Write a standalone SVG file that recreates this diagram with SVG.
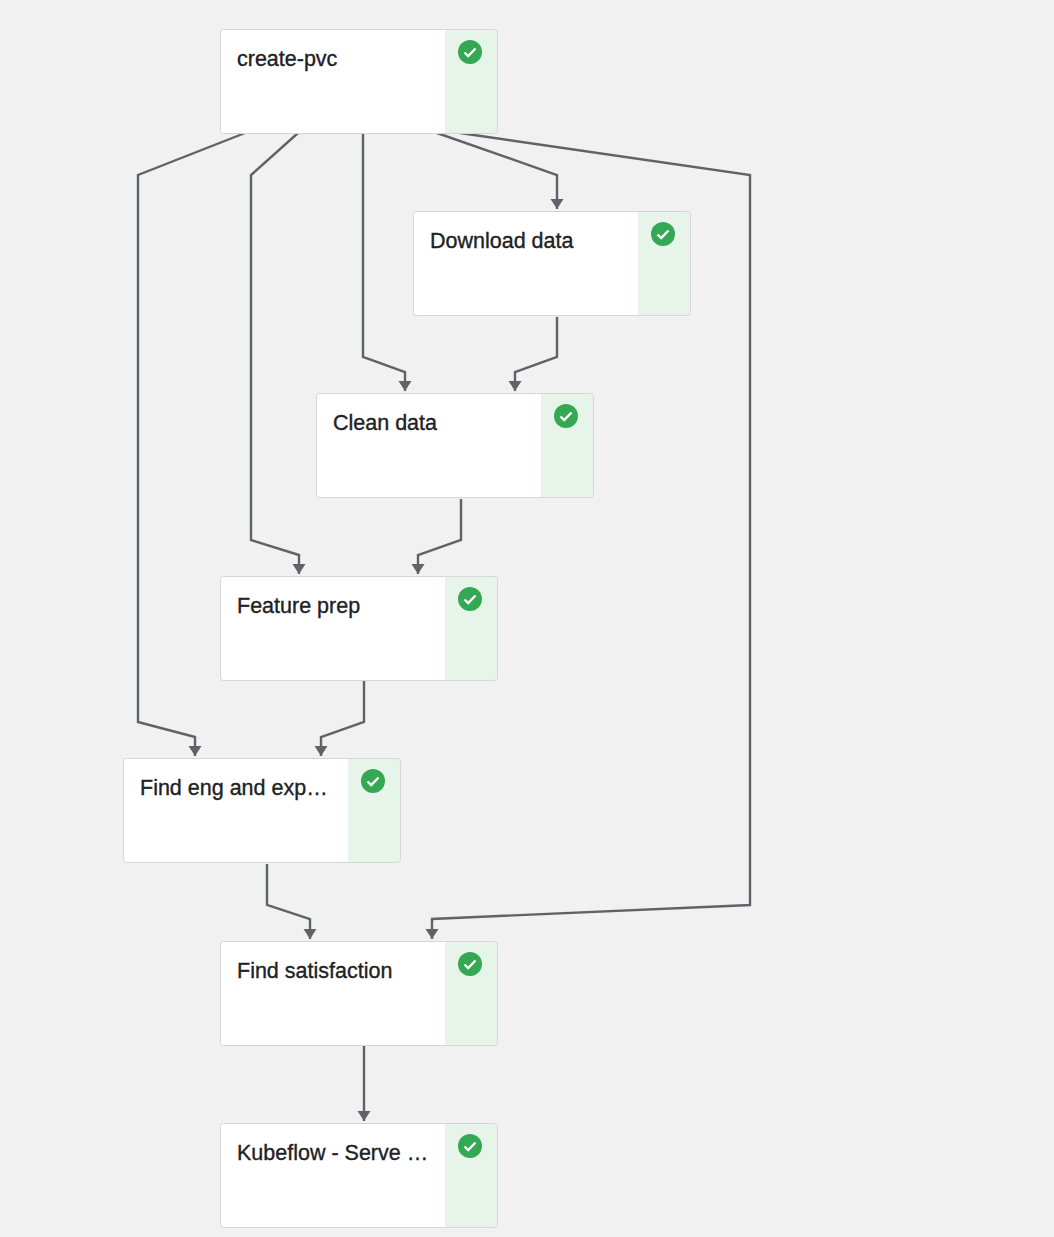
<svg xmlns="http://www.w3.org/2000/svg" width="1054" height="1237" viewBox="0 0 1054 1237">
<style>
.n text{font-family:"Liberation Sans",Arial,sans-serif;font-size:21.5px;fill:#202124;stroke:#202124;stroke-width:0.35}
.e path{fill:none;stroke:#5f6368;stroke-width:2.4;marker-end:url(#a)}
</style>
<defs>
<marker id="a" markerUnits="userSpaceOnUse" markerWidth="12" markerHeight="14" refX="10" refY="7" orient="auto" viewBox="0 0 12 14">
<path d="M0,0.5 L10,7 L0,13.5 Z" fill="#5f6368"/>
</marker>
<symbol id="ok" viewBox="0 0 24 24"><circle cx="12" cy="12" r="12" fill="#34a853"/><path d="M6.5,12.5 L10.2,16 L17.5,8.5" fill="none" stroke="#fff" stroke-width="2.4"/></symbol>
<g id="node">
<rect x="0.5" y="0.5" width="277" height="104" rx="3" fill="#fff"/>
<rect x="225" y="1" width="52" height="103" fill="#e6f4ea"/>
<rect x="0.5" y="0.5" width="277" height="104" rx="3" fill="none" stroke="#d6d6d6"/>
<use href="#ok" x="238" y="11" width="24" height="24"/>
</g>
</defs>
<rect width="1054" height="1237" fill="#f1f1f1"/>
<g class="e" id="connectors">
<path d="M245,133 L138,175 L138,722 L195,737 L195,756"/>
<path d="M298,133 L251,175 L251,540 L299,555 L299,574"/>
<path d="M363,133 L363,357 L405,372 L405,391"/>
<path d="M437,133 L557,175 L557,209"/>
<path d="M460,133 L750,175 L750,905 L432,919 L432,939"/>
<path d="M557,317 L557,357 L515,372 L515,391"/>
<path d="M461,499 L461,540 L418,555 L418,574"/>
<path d="M364,681 L364,722 L321,737 L321,756"/>
<path d="M267,864 L267,905 L310,919 L310,939"/>
<path d="M364,1046 L364,1121"/>
</g>
<g class="n" id="create-pvc" transform="translate(220,29)"><use href="#node"/><text x="17" y="37">create-pvc</text></g>
<g class="n" id="download-data" transform="translate(413,211)"><use href="#node"/><text x="17" y="37">Download data</text></g>
<g class="n" id="clean-data" transform="translate(316,393)"><use href="#node"/><text x="17" y="37">Clean data</text></g>
<g class="n" id="feature-prep" transform="translate(220,576)"><use href="#node"/><text x="17" y="37">Feature prep</text></g>
<g class="n" id="find-eng" transform="translate(123,758)"><use href="#node"/><text x="17" y="37">Find eng and exp…</text></g>
<g class="n" id="find-satisfaction" transform="translate(220,941)"><use href="#node"/><text x="17" y="37">Find satisfaction</text></g>
<g class="n" id="kubeflow-serve" transform="translate(220,1123)"><use href="#node"/><text x="17" y="37">Kubeflow - Serve …</text></g>
</svg>
